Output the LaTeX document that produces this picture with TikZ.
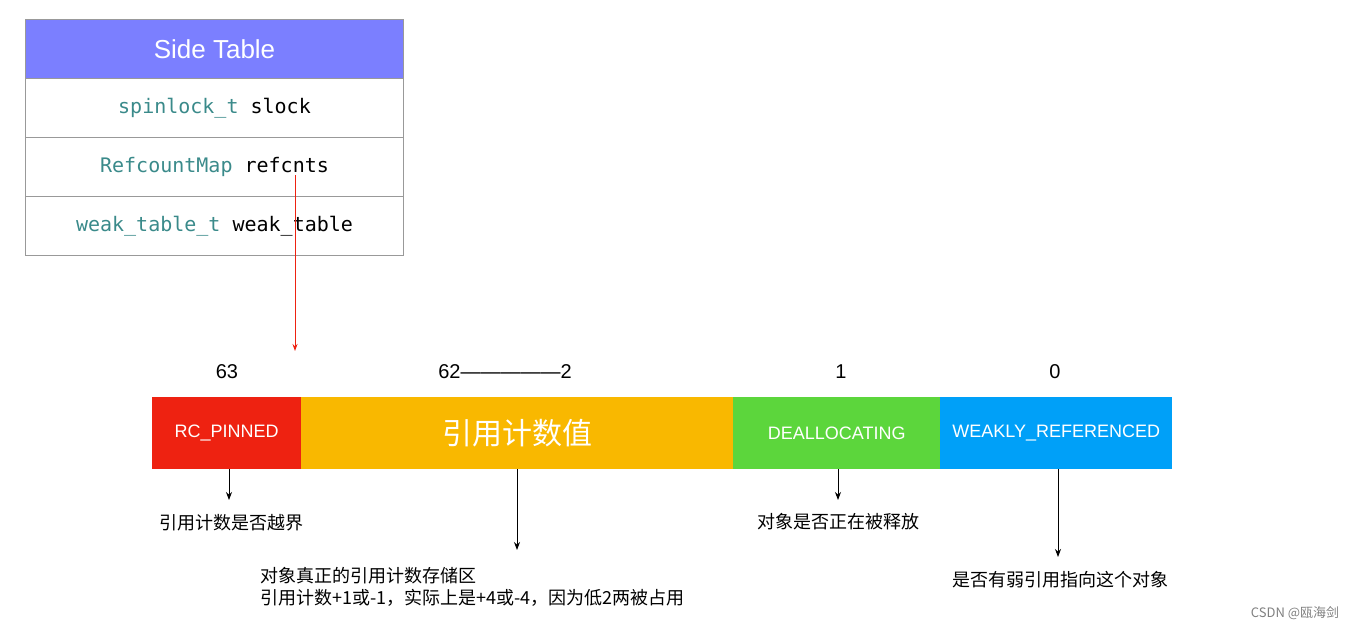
\documentclass[tikz,border=0pt]{standalone}
\usepackage{fontspec}
\setmainfont{Liberation Sans}
\newfontfamily\cjk{Noto Sans CJK SC}
\newfontfamily\mono{DejaVu Sans Mono}
\usetikzlibrary{arrows.meta}
\definecolor{hdr}{HTML}{7B7FFF}
\definecolor{teal}{HTML}{3A8A8A}
\definecolor{cred}{HTML}{EE2211}
\definecolor{corg}{HTML}{F9B800}
\definecolor{cgrn}{HTML}{5CD63C}
\definecolor{cblu}{HTML}{00A0F8}
\definecolor{gline}{HTML}{999999}
\begin{document}
\begin{tikzpicture}[x=1pt,y=-1pt,
 row/.style={draw=gline,line width=1pt,minimum width=378pt,minimum height=59pt,inner sep=0pt,anchor=north west,font=\mono\fontsize{20}{24}\selectfont},
 seg/.style={minimum height=72pt,inner sep=0pt,anchor=north west,text=white,font=\fontsize{18}{22}\selectfont},
 lab/.style={font=\fontsize{20}{24}\selectfont},
 note/.style={font=\cjk\fontsize{18}{22}\selectfont},
 arr/.style={-{Stealth[length=8pt,width=6pt]},line width=0.8pt}]
\useasboundingbox (0,0) rectangle (1362,631);
\node[row,fill=hdr,text=white,font=\fontsize{26}{30}\selectfont] (h) at (25,19) {Side Table};
\node[row] (r1) at (25,78) {\textcolor{teal}{spinlock\_t} slock};
\node[row] (r2) at (25,137) {\textcolor{teal}{RefcountMap} refcnts};
\node[row] (r3) at (25,196) {\textcolor{teal}{weak\_table\_t} weak\_table};
\coordinate (rs) at (295,175);
\coordinate (re) at (295,351);
\draw[arr,draw=cred,line width=1pt,-{Stealth[length=7pt,width=5pt]}] (rs) -- (re);
\node[seg,fill=cred,minimum width=149pt] (s63) at (152,397) {RC\_PINNED};
\node[seg,fill=corg,minimum width=432pt,font=\cjk\fontsize{30}{34}\selectfont] (s62) at (301,397) {引用计数值};
\node[seg,fill=cgrn,minimum width=207pt] (s1) at (733,397) {DEALLOCATING};
\node[seg,fill=cblu,minimum width=232pt] (s0) at (940,397) {WEAKLY\_REFERENCED};
\node[lab] (l63) at (227,372) {63};
\node[lab] (l62) at (505,372) {62---------------2};
\node[lab] (l1) at (841,372) {1};
\node[lab] (l0) at (1055,372) {0};
\node[note] (n63) at (231,523) {引用计数是否越界};
\node[note,anchor=west,align=left] (n62) at (257,587) {对象真正的引用计数存储区\\引用计数+1或-1，实际上是+4或-4，因为低2两被占用};
\node[note] (n1) at (838,522) {对象是否正在被释放};
\node[note] (n0) at (1060,580) {是否有弱引用指向这个对象};
\coordinate (a63) at (229,500);
\coordinate (a62) at (517,550);
\coordinate (a1) at (838,500);
\coordinate (a0) at (1058,557);
\draw[arr] (229,469) -- (a63);
\draw[arr] (517,469) -- (a62);
\draw[arr] (838,469) -- (a1);
\draw[arr] (1058,469) -- (a0);
\node[font=\cjk\fontsize{13}{15}\selectfont,text=gray] (wm) at (1295,613) {CSDN @瓯海剑};
\end{tikzpicture}
\end{document}
